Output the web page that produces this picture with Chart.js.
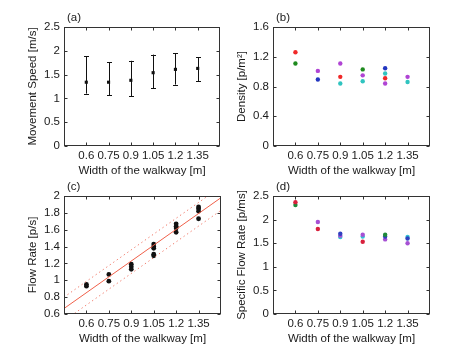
<!DOCTYPE html>
<html>
<head>
<meta charset="utf-8">
<script src="https://cdn.jsdelivr.net/npm/chart.js@4/dist/chart.umd.min.js"></script>
<style>
html,body{margin:0;padding:0;background:#fff;}
#wrap{position:relative;width:474px;height:355px;overflow:hidden;background:#fff;}
#wrap canvas{position:absolute;left:0;top:0;}
</style>
</head>
<body>
<div id="wrap">
<canvas id="ca" width="474" height="355"></canvas>
<canvas id="cb" width="474" height="355"></canvas>
<canvas id="cc" width="474" height="355"></canvas>
<canvas id="cd" width="474" height="355"></canvas>
</div>
<script>
// ---- data ----
const widths = [0.6, 0.75, 0.9, 1.05, 1.2, 1.35];
const widthLabels = ['0.6', '0.75', '0.9', '1.05', '1.2', '1.35'];

// (a) movement speed
const speedMean = [1.34, 1.34, 1.38, 1.54, 1.61, 1.63];
const speedLow  = [1.10, 1.07, 1.05, 1.21, 1.29, 1.36];
const speedHigh = [1.89, 1.76, 1.79, 1.92, 1.95, 1.86];

// (b) density
const densRed     = [1.26, null, 0.93, null, 0.91, null];
const densGreen   = [1.11, null, null, 1.03, null, null];
const densBlue    = [null, 0.895, null, null, 1.045, null];
const densMagenta = [null, 1.01, 1.11, 0.95, 0.84, 0.93];
const densCyan    = [null, null, 0.84, 0.87, 0.975, 0.86];

// (c) flow rate
const flowWidth = [0.6, 0.6, 0.75, 0.75, 0.9, 0.9, 0.9, 1.05, 1.05, 1.05, 1.05, 1.05, 1.2, 1.2, 1.2, 1.2, 1.35, 1.35, 1.35, 1.35];
const flowRate  = [0.95, 0.93, 1.07, 0.99, 1.19, 1.16, 1.13, 1.43, 1.40, 1.38, 1.31, 1.29, 1.67, 1.64, 1.62, 1.57, 1.87, 1.85, 1.82, 1.73];
const fitX      = [0.45, 1.5];
const fitY      = [0.665, 1.98];
const fitUpperY = [0.80, 2.11];
const fitLowerY = [0.52, 1.83];

// (d) specific flow rate
const sfrRed     = [2.37, 1.80, null, 1.53, null, null];
const sfrGreen   = [2.31, null, null, null, 1.68, null];
const sfrBlue    = [null, null, 1.70, null, 1.64, 1.60];
const sfrMagenta = [null, 1.95, 1.66, 1.68, 1.58, 1.50];
const sfrCyan    = [null, null, 1.63, 1.64, null, 1.63];

// ---- helpers ----
const FONT = {family: '"Liberation Sans", Arial, sans-serif', size: 11.5};
const TXT = '#1a1a1a';
const W = 474, H = 355;
const YW = 38, XH = 32;

function pts(xs, ys) {
  const out = [];
  for (let i = 0; i < xs.length; i++) if (ys[i] !== null) out.push({x: xs[i], y: ys[i]});
  return out;
}
function fmt(v) { return String(Math.round(v * 100) / 100); }

const boxPlugin = {
  id: 'matlabBox',
  afterDraw(chart, args, opts) {
    const ctx = chart.ctx, a = chart.chartArea;
    const xs = chart.scales.x, ys = chart.scales.y;
    ctx.save();
    ctx.strokeStyle = '#333';
    ctx.lineWidth = 1;
    const L = Math.round(a.left) + 0.5, R = Math.round(a.right) - 0.5;
    const T = Math.round(a.top) + 0.5, B = Math.round(a.bottom) - 0.5;
    ctx.strokeRect(L, T, R - L, B - T);
    ctx.beginPath();
    const tl = 3;
    xs.ticks.forEach(t => {
      const px = Math.round(xs.getPixelForValue(t.value)) + 0.5;
      ctx.moveTo(px, B); ctx.lineTo(px, B - tl);
      ctx.moveTo(px, T); ctx.lineTo(px, T + tl);
    });
    ys.ticks.forEach(t => {
      const py = Math.round(ys.getPixelForValue(t.value)) + 0.5;
      ctx.moveTo(L, py); ctx.lineTo(L + tl, py);
      ctx.moveTo(R, py); ctx.lineTo(R - tl, py);
    });
    ctx.stroke();
    if (opts && opts.label) {
      ctx.fillStyle = TXT;
      ctx.font = FONT.size + 'px ' + FONT.family;
      ctx.textBaseline = 'middle';
      ctx.textAlign = 'left';
      ctx.fillText(opts.label, a.left + 3, a.top - 9);
    }
    ctx.restore();
  }
};

const errorBarPlugin = {
  id: 'errBars',
  beforeDatasetsDraw(chart, args, opts) {
    if (!opts || !opts.low) return;
    const ctx = chart.ctx, xs = chart.scales.x, ys = chart.scales.y;
    ctx.save();
    ctx.strokeStyle = '#111';
    ctx.lineWidth = 1;
    ctx.beginPath();
    for (let i = 0; i < opts.x.length; i++) {
      const px = Math.round(xs.getPixelForValue(opts.x[i])) + 0.5;
      const yl = ys.getPixelForValue(opts.low[i]);
      const yh = ys.getPixelForValue(opts.high[i]);
      ctx.moveTo(px, yl); ctx.lineTo(px, yh);
      ctx.moveTo(px - 2.5, Math.round(yl) + 0.5); ctx.lineTo(px + 2.5, Math.round(yl) + 0.5);
      ctx.moveTo(px - 2.5, Math.round(yh) + 0.5); ctx.lineTo(px + 2.5, Math.round(yh) + 0.5);
    }
    ctx.stroke();
    ctx.restore();
  }
};

function makeChart(id, box, yCfg, yTitle, label, datasets, extraPlugins) {
  const [bl, bt, br, bb] = box;
  return new Chart(document.getElementById(id), {
    type: 'scatter',
    data: {datasets},
    options: {
      responsive: false,
      animation: false,
      devicePixelRatio: 1,
      layout: {padding: {left: bl - YW, top: bt, right: W - br, bottom: H - bb - XH}},
      plugins: {
        legend: {display: false},
        tooltip: {enabled: false},
        matlabBox: {label},
        errBars: extraPlugins || {}
      },
      scales: {
        x: {
          type: 'linear', position: 'bottom', min: 0.45, max: 1.5,
          grid: {display: false, drawTicks: false},
          border: {display: false},
          afterBuildTicks: s => { s.ticks = widths.map(v => ({value: v})); },
          ticks: {
            autoSkip: false, maxRotation: 0, minRotation: 0, padding: 3,
            font: FONT, color: TXT,
            callback: (v) => { const i = widths.findIndex(w => Math.abs(w - v) < 1e-6); return i >= 0 ? widthLabels[i] : ''; }
          },
          title: {display: true, text: 'Width of the walkway [m]', font: FONT, color: TXT, padding: 0},
          afterFit: s => { s.height = XH; }
        },
        y: {
          type: 'linear', position: 'left', min: yCfg[0], max: yCfg[1],
          grid: {display: false, drawTicks: false},
          border: {display: false},
          ticks: {stepSize: yCfg[2], padding: 4, font: FONT, color: TXT, callback: v => fmt(v)},
          title: {display: true, text: yTitle, font: FONT, color: TXT, padding: 0},
          afterFit: s => { s.width = YW; }
        }
      }
    },
    plugins: [boxPlugin, errorBarPlugin]
  });
}

function dots(data, color, r) {
  return {data, backgroundColor: color, borderColor: color, pointRadius: r || 2.2, pointBorderWidth: 0, showLine: false};
}

// (a)
makeChart('ca', [64, 27, 220, 146], [0, 2.5, 0.5], 'Movement Speed [m/s]', '(a)', [
  {data: pts(widths, speedMean), backgroundColor: '#111', borderColor: '#111', pointStyle: 'rect', pointRadius: 2.2, pointBorderWidth: 0, showLine: false}
], {x: widths, low: speedLow, high: speedHigh});

// (b)
makeChart('cb', [273, 27, 430, 146], [0, 1.6, 0.4], 'Density [p/m\u00B2]', '(b)', [
  dots(pts(widths, densRed), '#f02828'),
  dots(pts(widths, densGreen), '#1e8a1e'),
  dots(pts(widths, densBlue), '#2236c0'),
  dots(pts(widths, densMagenta), '#b044d4'),
  dots(pts(widths, densCyan), '#30c4c0')
]);

// (c)
makeChart('cc', [64, 196, 221, 314], [0.6, 2, 0.2], 'Flow Rate [p/s]', '(c)', [
  {type: 'line', data: pts(fitX, fitY), borderColor: '#f0604a', borderWidth: 1, pointRadius: 0, fill: false},
  {type: 'line', data: pts(fitX, fitUpperY), borderColor: '#f07868', borderWidth: 1, borderDash: [1.3, 3], pointRadius: 0, fill: false},
  {type: 'line', data: pts(fitX, fitLowerY), borderColor: '#f07868', borderWidth: 1, borderDash: [1.3, 3], pointRadius: 0, fill: false},
  dots(pts(flowWidth, flowRate), '#111', 2.4)
]);

// (d)
makeChart('cd', [273, 196, 430, 314], [0, 2.5, 0.5], 'Specific Flow Rate [p/ms]', '(d)', [
  dots(pts(widths, sfrRed), '#d8203c'),
  dots(pts(widths, sfrGreen), '#1e8a3a'),
  dots(pts(widths, sfrBlue), '#3040c0'),
  dots(pts(widths, sfrMagenta), '#a650d4'),
  dots(pts(widths, sfrCyan), '#30c4d4')
]);
</script>
</body>
</html>
